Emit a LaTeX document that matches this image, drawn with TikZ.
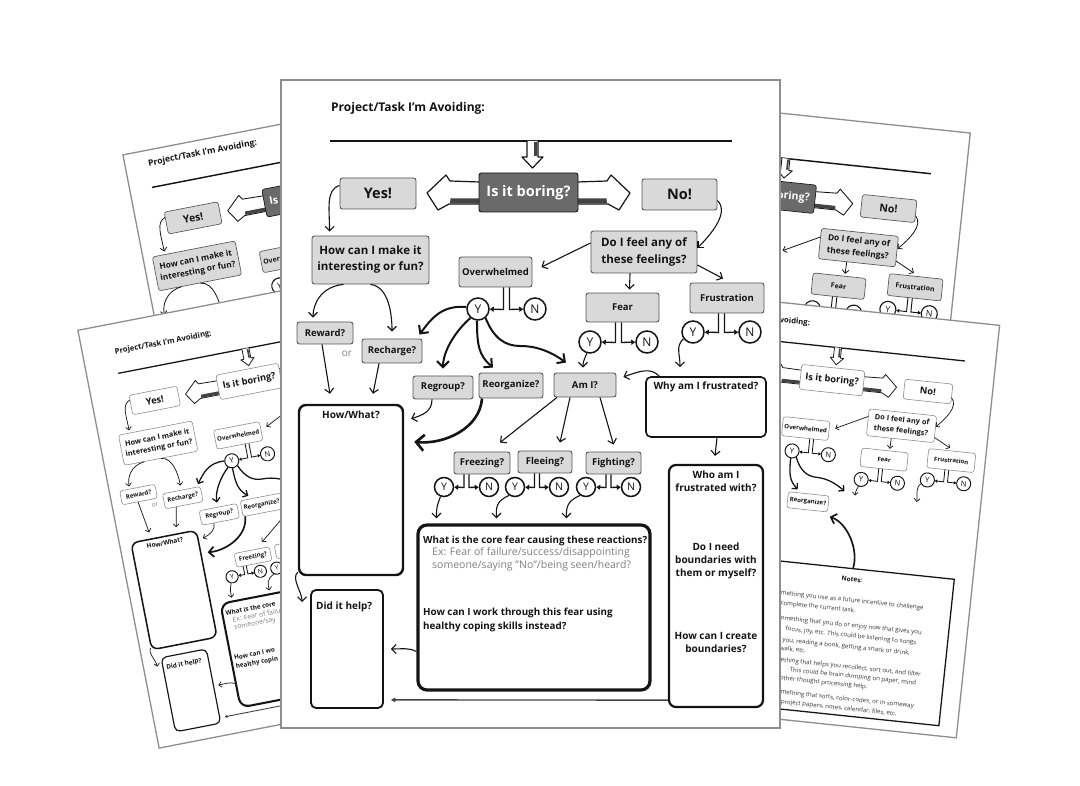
\documentclass[tikz,border=0pt]{standalone}
\usepackage{fontspec}
\setmainfont{Open Sans}
\usetikzlibrary{arrows.meta,calc}
\definecolor{ink}{HTML}{141414}
\definecolor{pageedge}{HTML}{8E8E8E}
\definecolor{lgray}{HTML}{D9D9D9}
\definecolor{bord}{HTML}{555555}
\definecolor{lbord}{HTML}{8A8A8A}
\definecolor{dgray}{HTML}{6A6A6A}
\definecolor{extext}{HTML}{808080}
\newcommand\fsz[2]{\fontsize{#1}{#2}\selectfont}
\newcommand\pw{1}
\newcommand\boxcol{lgray}
\newcommand\bordcol{bord}
\newcommand\darkcol{dgray}
\newcommand\darktxt{white}
\newcommand\darkbord{ink}
\newcommand\tTitle{Project/Task I'm Avoiding:}
\newcommand\tBor{Is it boring?}
\newcommand\tOvN{N}
\newcommand\tCa{What is the core fear causing these reactions?}
\newcommand\tCb{Ex: Fear of failure/success/disappointing}
\newcommand\tCc{someone/saying "No"/being seen/heard?}
\newcommand\tCd{How can I work through this fear using\\healthy coping skills instead?}
\newcommand\setpw[1]{%
  \def\pw{#1}%
  \pgfmathsetlengthmacro\aL{4.5pt*#1}\pgfmathsetlengthmacro\aW{9pt*#1}%
  \pgfmathsetlengthmacro\tL{6pt*#1}\pgfmathsetlengthmacro\tW{12pt*#1}%
  \pgfmathsetlengthmacro\bL{8pt*#1}\pgfmathsetlengthmacro\bW{16pt*#1}%
  \pgfmathsetlengthmacro\sL{4pt*#1}\pgfmathsetlengthmacro\sW{5pt*#1}}
\newcommand\plain{\def\boxcol{white}\def\bordcol{lbord}\def\darkcol{white}\def\darktxt{ink}\def\darkbord{lbord}}
\tikzset{
  gbox/.style={draw=\bordcol, fill=\boxcol, rounded corners=2.5pt, line width=\pw*0.9pt, inner sep=0pt, align=center, text=ink, font=\bfseries\fsz{9.5}{11}},
  wbox/.style={draw=ink, fill=white, line width=\pw*2pt, rounded corners=6pt, inner sep=0pt},
  bt/.style={font=\bfseries\fsz{10}{13.3}, text=ink, inner sep=0pt, align=center},
  ync/.style={circle, draw=ink, fill=white, line width=\pw*1.5pt, inner sep=0pt, minimum size=22pt, font=\fsz{12}{14}, text=ink},
  ynd/.style={ync, minimum size=19pt, font=\fsz{10.5}{12}},
  arr/.style={draw=ink, line width=\pw*1.1pt, -{Straight Barb[length=\aL,width=\aW]}},
  tarr/.style={draw=ink, line width=\pw*2pt, -{Straight Barb[length=\tL,width=\tW]}},
  barr/.style={draw=ink, line width=\pw*2.6pt, -{Straight Barb[length=\bL,width=\bW]}},
  sp/.style={draw=ink, line width=\pw*1.3pt, -{Triangle[length=\sL,width=\sW]}},
  hollow/.style={draw=ink, fill=white, line width=\pw*1.2pt, line join=round},
  notel/.style={anchor=west, font=\fsz{9.6}{11}, text=ink!85, inner sep=0pt},
}
\newcommand\pageFrame[2]{\draw[draw=pageedge, fill=white, line width=1.3pt] (#1,#2) rectangle (780,728);}
% ---------- groups of one worksheet, in the front page's pixel coordinates ----------
\newcommand\gHead{%
  \node[font=\bfseries\fsz{12}{14}, text=ink, inner sep=0pt, anchor=west] (ttl) at (331,108) {\tTitle};
  \coordinate (rl) at (330,141); \coordinate (rr) at (732,141);
  \draw[draw=ink, line width=\pw*2pt] (rl) -- (rr);
  \draw[hollow] (527,141) -- (527,157) -- (522,157) -- (532.5,168) -- (543,157) -- (538,157) -- (538,141);
  \fill[ink!80] (534.3,142) rectangle (536.8,156);
}
\newcommand\gBor{%
  \draw[hollow] (480,182) -- (450,181) -- (446,175) -- (427,193) -- (438,210) -- (449,204) -- (480,204);
  \fill[ink!80] (450.5,198.5) -- (480,198.5) -- (480,203.5) -- (450,203.5) -- cycle;
  \draw[hollow] (577,182) -- (607,181) -- (611,175) -- (630,193) -- (619,210) -- (608,204) -- (577,204);
  \fill[ink!80] (606.5,198.5) -- (577,198.5) -- (577,203.5) -- (607,203.5) -- cycle;
  \node[gbox, fill=\darkcol, draw=\darkbord, text=\darktxt, minimum width=99pt, minimum height=39pt, font=\bfseries\fsz{14.5}{17}] (bor) at (528.5,192.5) {\tBor};
}
\newcommand\gYes{%
  \node[gbox, minimum width=76pt, minimum height=31pt, font=\bfseries\fsz{14.5}{17}] (yes) at (378,193.5) {Yes!};
  \node[gbox, minimum width=117pt, minimum height=48pt, font=\bfseries\fsz{11.5}{16}] (hc) at (370.5,260) {How can I make it\\interesting or fun?};
  \draw[arr] ([yshift=8pt]yes.west) .. controls +(-14,4) and +(0,-22) .. ([xshift=18pt,yshift=4pt]hc.north west);
}
\newcommand\gOv{%
  \node[gbox, minimum width=73pt, minimum height=30pt] (ov) at (495.5,272) {Overwhelmed};
}
\newcommand\gOvYN{%
  \node[ync] (ovY) at (478,309) {Y};
  \node[ync] (ovN) at (535,309) {\tOvN};
  \coordinate (ovM) at ($(ovY)!0.5!(ovN)$);
  \draw[sp] (ovM |- ov.south) ++(-3,0) -- ++(0,22) -- (ovY);
  \draw[sp] (ovM |- ov.south) ++(3,0) -- ++(0,22) -- (ovN);
}
\newcommand\gFeel{%
  \node[gbox, minimum width=75pt, minimum height=31pt, font=\bfseries\fsz{14.5}{17}] (no) at (679.5,194.5) {No!};
  \node[gbox, minimum width=106pt, minimum height=42pt, font=\bfseries\fsz{11.5}{17}] (df) at (644,252) {Do I feel any of\\these feelings?};
  \node[gbox, minimum width=73pt, minimum height=29pt] (fe) at (622.5,307.5) {Fear};
  \node[gbox, minimum width=74pt, minimum height=30pt] (fr) at (727,298) {Frustration};
  \draw[arr] ([yshift=-6pt]no.east) .. controls +(12,12) and +(14,-14) .. ([yshift=4pt]df.east);
  \draw[arr] ([xshift=-14pt]df.south) -- ([xshift=7pt,yshift=3pt]fe.north);
  \draw[arr] ([yshift=-13pt]df.east) -- ([xshift=-4pt,yshift=4pt]fr.north);
  \node[ync] (feY) at (590,342) {Y};
  \node[ync] (feN) at (647,342) {N};
  \coordinate (feM) at ($(feY)!0.5!(feN)$);
  \draw[sp] (feM |- fe.south) ++(-3,0) -- ++(0,20) -- (feY);
  \draw[sp] (feM |- fe.south) ++(3,0) -- ++(0,20) -- (feN);
  \node[ync] (frY) at (693,332) {Y};
  \node[ync] (frN) at (750,332) {N};
  \coordinate (frM) at ($(frY)!0.5!(frN)$);
  \draw[sp] (frM |- fr.south) ++(-3,0) -- ++(0,19) -- (frY);
  \draw[sp] (frM |- fr.south) ++(3,0) -- ++(0,19) -- (frN);
}
\newcommand\gDfOv{\draw[arr] ([yshift=9pt]df.west) -- ([xshift=9pt,yshift=5pt]ov.east);}
\newcommand\gLeftMid{%
  \node[gbox, minimum width=56pt, minimum height=22pt] (rw) at (325,333) {Reward?};
  \node[gbox, minimum width=60pt, minimum height=24pt] (rc) at (392,351) {Recharge?};
  \node[text=extext, font=\fsz{10}{12}, inner sep=0pt] (orr) at (347,354) {or};
  \draw[arr] ([xshift=-27pt]hc.south) .. controls +(-22,2) and +(0,-14) .. ([xshift=-12pt,yshift=4pt]rw.north);
  \draw[arr] (hc.south) .. controls +(18,2) and +(0,-18) .. ([yshift=7pt]rc.north);
  \node[wbox, minimum width=104pt, minimum height=170pt, line width=\pw*2.4pt, rounded corners=7pt] (hw) at (351,490) {};
  \node[bt] (hwt) at (351,415) {How/What?};
  \draw[arr] ([xshift=-3pt]rw.south) -- ([xshift=-21pt,yshift=10pt]hw.north);
  \draw[arr] ([xshift=-13pt]rc.south) -- ([xshift=22pt,yshift=10pt]hw.north);
  \node[gbox, minimum width=60pt, minimum height=23pt] (rg) at (443,387.5) {Regroup?};
  \node[gbox, minimum width=64pt, minimum height=25pt] (ro) at (511,385.5) {Reorganize?};
  \draw[tarr] (ovY.170) .. controls +(-25,-2) and +(12,-16) .. ([xshift=-3pt,yshift=4pt]rc.north east);
  \draw[tarr] (ovY.230) .. controls +(-14,12) and +(0,-18) .. ([yshift=7pt]rg.north);
  \draw[tarr] (ovY.265) .. controls +(0,25) and +(-14,-12) .. ([xshift=-18pt,yshift=5pt]ro.north);
  \draw[arr] ([xshift=-11pt]rg.south) .. controls +(0,12) and +(12,-4) .. ([xshift=7pt,yshift=-15pt]hw.north east);
  \draw[barr] ([xshift=-29pt]ro.south) .. controls +(-2,30) and +(30,3) .. ([xshift=10pt,yshift=-38pt]hw.north east);
}
\newcommand\gAm{%
  \node[gbox, minimum width=62pt, minimum height=24pt] (am) at (585,385) {Am I?};
  \coordinate (wv) at (520,346);
  \draw[tarr] (ovY.310) .. controls +(8,20) and +(-15,0) .. (wv) .. controls +(18,0) and +(-14,-10) .. ([xshift=-19pt,yshift=10pt]am.north);
}
\newcommand\gFreeze{%
  \node[gbox, minimum width=56pt, minimum height=22pt] (fz) at (482,463) {Freezing?};
  \node[gbox, minimum width=54pt, minimum height=22pt] (fl) at (545,462) {Fleeing?};
  \node[gbox, minimum width=55pt, minimum height=22pt] (fg) at (613.5,463) {Fighting?};
  \draw[arr] ([xshift=-28pt]am.south) -- ([xshift=18pt,yshift=9pt]fz.north);
  \draw[arr] ([xshift=-15pt]am.south) -- ([xshift=15pt,yshift=8pt]fl.north);
  \draw[arr] ([xshift=15pt]am.south) -- ([yshift=7pt]fg.north);
  \node[ynd] (fzY) at (444,487) {Y};
  \node[ynd] (fzN) at (489,487) {N};
  \node[ynd] (flY) at (515,487) {Y};
  \node[ynd] (flN) at (559,487) {N};
  \node[ynd] (fgY) at (586,487) {Y};
  \node[ynd] (fgN) at (631,487) {N};
  \coordinate (fzM) at ($(fzY)!0.5!(fzN)$);
  \coordinate (flM) at ($(flY)!0.5!(flN)$);
  \coordinate (fgM) at ($(fgY)!0.5!(fgN)$);
  \draw[sp] (fzM |- fz.south) ++(-2.5,0) -- ++(0,13) -- (fzY);
  \draw[sp] (fzM |- fz.south) ++(2.5,0) -- ++(0,13) -- (fzN);
  \draw[sp] (flM |- fl.south) ++(-2.5,0) -- ++(0,14) -- (flY);
  \draw[sp] (flM |- fl.south) ++(2.5,0) -- ++(0,14) -- (flN);
  \draw[sp] (fgM |- fg.south) ++(-2.5,0) -- ++(0,13) -- (fgY);
  \draw[sp] (fgM |- fg.south) ++(2.5,0) -- ++(0,13) -- (fgN);
  \node[wbox, minimum width=232pt, minimum height=165pt, line width=\pw*3.2pt, rounded corners=9pt] (cf) at (534,607.5) {};
  \draw[arr] (fzY.250) .. controls +(-4,10) and +(0,-8) .. ([xshift=20pt,yshift=5pt]cf.north west);
  \draw[arr] (flY.235) .. controls +(-14,6) and +(0,-10) .. ([xshift=80pt,yshift=5pt]cf.north west);
  \draw[arr] (fgY.235) .. controls +(-14,6) and +(0,-10) .. ([xshift=150pt,yshift=5pt]cf.north west);
  \node[bt, anchor=west, font=\bfseries\fsz{9.8}{13.3}] (c1) at (423,541) {\tCa};
  \node[anchor=west, inner sep=0pt, text=extext, font=\fsz{10.5}{12}] (c2) at (432,553) {\tCb};
  \node[anchor=west, inner sep=0pt, text=extext, font=\fsz{10.5}{12}] (c3) at (432,566) {\tCc};
  \node[bt, anchor=west, align=left, font=\bfseries\fsz{9.8}{14}] (c4) at (423,620) {\tCd};
  \node[wbox, minimum width=72pt, minimum height=118pt, line width=\pw*1.8pt, rounded corners=5pt] (dh) at (347,649) {};
  \node[bt, anchor=west] (dht) at (316,607) {Did it help?};
  \draw[arr] ([yshift=-44pt]cf.west) .. controls +(-8,-4) and +(12,0) .. ([xshift=7pt]dh.east);
  \draw[arr] ([yshift=4pt]hw.south west) .. controls +(-7,6) and +(0,-10) .. ([xshift=-8pt,yshift=-13pt]dh.north west);
}
\newcommand\gWhy{%
  \node[wbox, minimum width=120pt, minimum height=60pt, line width=\pw*1.6pt, rounded corners=5pt] (wy) at (706,407) {};
  \node[bt] (wyt) at (706,387) {Why am I frustrated?};
  \draw[arr] (feY.255) .. controls +(-3,6) and +(0,-5) .. ([xshift=-2pt,yshift=5pt]am.north);
  \draw[arr] (frY.215) .. controls +(-8,8) and +(0,-14) .. ([xshift=-26pt,yshift=9pt]wy.north);
  \draw[arr] ([xshift=14pt]wy.north west) .. controls +(-8,-9) and +(16,-6) .. ([xshift=7pt,yshift=8pt]am.east);
  \node[wbox, minimum width=94pt, minimum height=242pt, line width=\pw*2.2pt, rounded corners=7pt] (wh) at (716,586) {};
  \node[bt] (wh1) at (716,481.5) {Who am I\\frustrated with?};
  \node[bt] (wh2) at (716,561) {Do I need\\boundaries with\\them or myself?};
  \node[bt] (wh3) at (716,642.5) {How can I create\\boundaries?};
  \draw[arr] ([xshift=11pt]wy.south) -- ([xshift=-1pt,yshift=8pt]wh.north);
  \draw[draw=ink!80, line width=\pw*1.4pt, -{Triangle[length=\aL,width=\aL]}] ([yshift=8pt]wh.south west) -- ([xshift=7pt,yshift=9pt]dh.south east);
}
\newcommand\gNotes{%
  \node[gbox, minimum width=64pt, minimum height=25pt] (ro) at (511,385.5) {Reorganize?};
  \coordinate (wv) at (520,346);
  \coordinate (amx) at (566,363);
  \coordinate (fex) at (583,368);
  \coordinate (frx) at (680,368);
  \draw[tarr] (ovY.265) .. controls +(0,25) and +(-14,-12) .. ([xshift=-18pt,yshift=5pt]ro.north);
  \draw[tarr] (ovY.310) .. controls +(8,20) and +(-15,0) .. (wv) .. controls +(18,0) and +(-14,-10) .. (amx);
  \draw[arr] (feY.255) .. controls +(-3,6) and +(0,-5) .. (fex);
  \draw[arr] (frY.215) .. controls +(-8,8) and +(0,-14) .. (frx);
  \node[draw=ink, fill=white, line width=\pw*2pt, minimum width=318pt, minimum height=230pt, inner sep=0pt] (nb) at (592,597) {};
  \node[font=\bfseries\fsz{10}{12}, text=ink, inner sep=0pt] (nt) at (592,499) {Notes:};
  \draw[barr] (nb.north) .. controls +(6,-30) and +(28,6) .. ([xshift=4pt,yshift=-7pt]ro.south east);
  \node[notel] (n1) at (483.5,532) {mething you use as a future incentive to challenge};
  \node[notel] (n2) at (485,547.5) {complete the current task.};
  \node[notel] (n3) at (487.5,571) {omething that you do or enjoy now that gives you};
  \node[notel] (n4) at (497,587) {focus, joy, etc. This could be listening to songs};
  \node[notel] (n5) at (494,604.5) {you, reading a book, getting a snack or drink,};
  \node[notel] (n6) at (491,617.5) {walk, etc.};
  \node[notel] (n7) at (494.5,636) {ething that helps you recollect, sort out, and filter};
  \node[notel] (n8) at (510,650) {This could be brain dumping on paper, mind};
  \node[notel] (n9) at (496,664) {other thought processing help.};
  \node[notel] (n10) at (499.5,686) {mething that sorts, color-codes, or in someway};
  \node[notel] (n11) at (501.5,701) {project papers, notes, calendar, files, etc.};
}
\begin{document}
\begin{tikzpicture}[x=1pt,y=-1pt]
\useasboundingbox (0,0) rectangle (1080,786);
\fill[white] (0,0) rectangle (1080,786);
% back sheet, left, upper
\begin{scope}[shift={(109,151)}, rotate=11, scale=0.72, transform shape]
  \setpw{0.72}\def\tBor{Is\phantom{ it boring?}}\def\tOvN{\phantom{N}}
  \begin{scope}[shift={(-281,-80)}]
    \pageFrame{299}{89}
    \gHead \gBor \gYes \gOv \gOvYN
    \coordinate (rwx) at (313,318);
    \coordinate (rcx) at (392,332);
    \draw[arr] ([xshift=-27pt]hc.south) .. controls +(-22,2) and +(0,-14) .. (rwx);
    \draw[arr] (hc.south) .. controls +(18,2) and +(0,-18) .. (rcx);
  \end{scope}
\end{scope}
% back sheet, left, lower
\begin{scope}[shift={(80,341)}, rotate=11, scale=0.64, transform shape]
  \setpw{0.64}\plain
  \def\tCa{What is the core}\def\tCb{Ex: Fear of failu}\def\tCc{someone/say}\def\tCd{How can I wo\\healthy copin}
  \begin{scope}[shift={(-281,-80)}]
    \pageFrame{281}{63}
    \gHead \gBor \gYes \gOv \gOvYN \gLeftMid \gAm \gFreeze
    \coordinate (dfx) at (590,243);
    \coordinate (whx) at (669,699);
    \draw[arr] (dfx) -- ([xshift=9pt,yshift=5pt]ov.east);
    \draw[draw=ink!80, line width=\pw*1.4pt, -{Triangle[length=\aL,width=\aL]}] (whx) -- ([xshift=7pt,yshift=9pt]dh.south east);
  \end{scope}
\end{scope}
% back sheet, right, upper
\begin{scope}[shift={(608,95)}, rotate=-6, scale=0.73, transform shape]
  \setpw{0.73}\def\tTitle{}\def\tBor{\phantom{Is it b}oring?}
  \begin{scope}[shift={(-281,-80)}]
    \pageFrame{281}{80}
    \gHead \gBor \gFeel
    \coordinate (ovx) at (541,267);
    \draw[arr] ([yshift=9pt]df.west) -- (ovx);
  \end{scope}
\end{scope}
% back sheet, right, lower
\begin{scope}[shift={(682,292)}, rotate=-6, scale=0.64, transform shape]
  \setpw{0.64}\plain\def\tTitle{\phantom{Project/Task I'm A}voiding:}
  \begin{scope}[shift={(-281,-80)}]
    \pageFrame{281}{80}
    \gHead \gBor \gOv \gOvYN \gFeel \gDfOv \gNotes
  \end{scope}
\end{scope}
% front sheet
\begin{scope}[shift={(281,80)}]
  \setpw{1}
  \begin{scope}[shift={(-281,-80)}]
    \pageFrame{281}{80}
    \gHead \gBor \gYes \gOv \gOvYN \gFeel \gDfOv \gLeftMid \gAm \gFreeze \gWhy
  \end{scope}
\end{scope}
\end{tikzpicture}
\end{document}
